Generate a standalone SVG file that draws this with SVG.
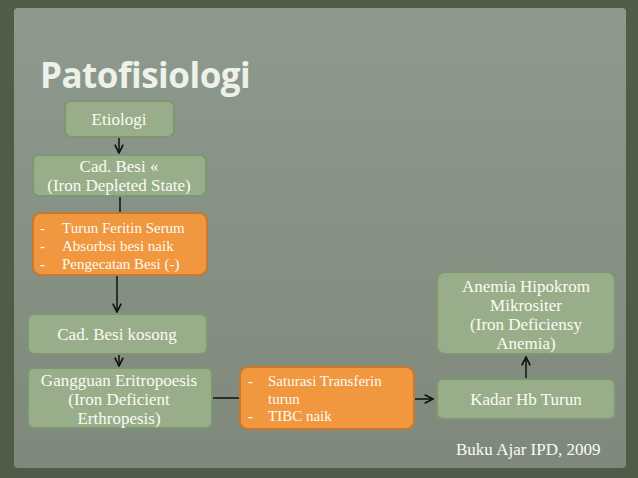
<svg xmlns="http://www.w3.org/2000/svg" width="638" height="478" viewBox="0 0 638 478">
<defs>
<marker id="ah" viewBox="0 0 10 10" refX="9" refY="5" markerWidth="7" markerHeight="7" orient="auto"><path d="M1,1 L9,5 L1,9" fill="none" stroke="#111" stroke-width="1.6"/></marker>
<linearGradient id="bg" x1="0" y1="0" x2="0" y2="1"><stop offset="0" stop-color="#8e9a8d"/><stop offset="1" stop-color="#7e897c"/></linearGradient>
</defs>
<style>
.g{fill:#98ae8a;stroke:#7f9673;stroke-width:2}
.o{fill:#f0973f;stroke:#c9782e;stroke-width:2}
text{font-family:"Liberation Serif","DejaVu Serif",serif;font-size:17px;fill:#fbfbf3}
.s{font-size:15px}
.c{text-anchor:middle}
.ln{stroke:#111;stroke-width:1.5;fill:none}
</style>
<rect width="638" height="478" fill="#4f5c47"/>
<rect x="14" y="8" width="612" height="460" rx="4" fill="url(#bg)"/>
<text x="40" y="88" style="font-family:'Open Sans','DejaVu Sans',sans-serif;font-size:35px;font-weight:bold;fill:#eef0ea;letter-spacing:-0.5px">Patofisiologi</text>
<g id="connectors">
<path class="ln" d="M119,137 V153" marker-end="url(#ah)"/>
<path class="ln" d="M120,196 V213"/>
<path class="ln" d="M117,275 V312" marker-end="url(#ah)"/>
<path class="ln" d="M119,354 V366" marker-end="url(#ah)"/>
<path class="ln" d="M212,398 H240"/>
<path class="ln" d="M414,399 H433" marker-end="url(#ah)"/>
<path class="ln" d="M526,379 V357" marker-end="url(#ah)"/>
</g>
<g id="etiologi"><rect class="g" x="65" y="101" width="109" height="36" rx="6"/><text class="c" x="119" y="125">Etiologi</text></g>
<g id="cadbesi"><rect class="g" x="33" y="155" width="173" height="41" rx="6"/><text class="c" x="119" y="172">Cad. Besi «</text><text class="c" x="119" y="191">(Iron Depleted State)</text></g>
<g id="orange1"><rect class="o" x="33" y="213" width="174" height="62" rx="8"/>
<text class="s" x="40" y="233">-</text><text class="s" x="62" y="233">Turun Feritin Serum</text>
<text class="s" x="40" y="251">-</text><text class="s" x="62" y="251">Absorbsi besi naik</text>
<text class="s" x="40" y="269">-</text><text class="s" x="62" y="269">Pengecatan Besi (-)</text></g>
<g id="kosong"><rect class="g" x="28" y="314" width="179" height="40" rx="6"/><text class="c" x="117" y="340">Cad. Besi kosong</text></g>
<g id="gangguan"><rect class="g" x="28" y="368" width="184" height="60" rx="6"/><text class="c" x="119" y="386">Gangguan Eritropoesis</text><text class="c" x="119" y="405">(Iron Deficient</text><text class="c" x="119" y="424">Erthropesis)</text></g>
<g id="orange2"><rect class="o" x="240" y="367" width="174" height="62" rx="8"/>
<text class="s" x="248" y="386">-</text><text class="s" x="268" y="386">Saturasi Transferin</text>
<text class="s" x="268" y="404">turun</text>
<text class="s" x="248" y="421">-</text><text class="s" x="268" y="421">TIBC naik</text></g>
<g id="kadarhb"><rect class="g" x="437" y="379" width="178" height="40" rx="6"/><text class="c" x="526" y="405">Kadar Hb Turun</text></g>
<g id="anemia"><rect class="g" x="437" y="272" width="178" height="82" rx="8"/><text class="c" x="526" y="292">Anemia Hipokrom</text><text class="c" x="526" y="311">Mikrositer</text><text class="c" x="526" y="330">(Iron Deficiensy</text><text class="c" x="526" y="349">Anemia)</text></g>
<text x="456" y="455">Buku Ajar IPD, 2009</text>
</svg>
